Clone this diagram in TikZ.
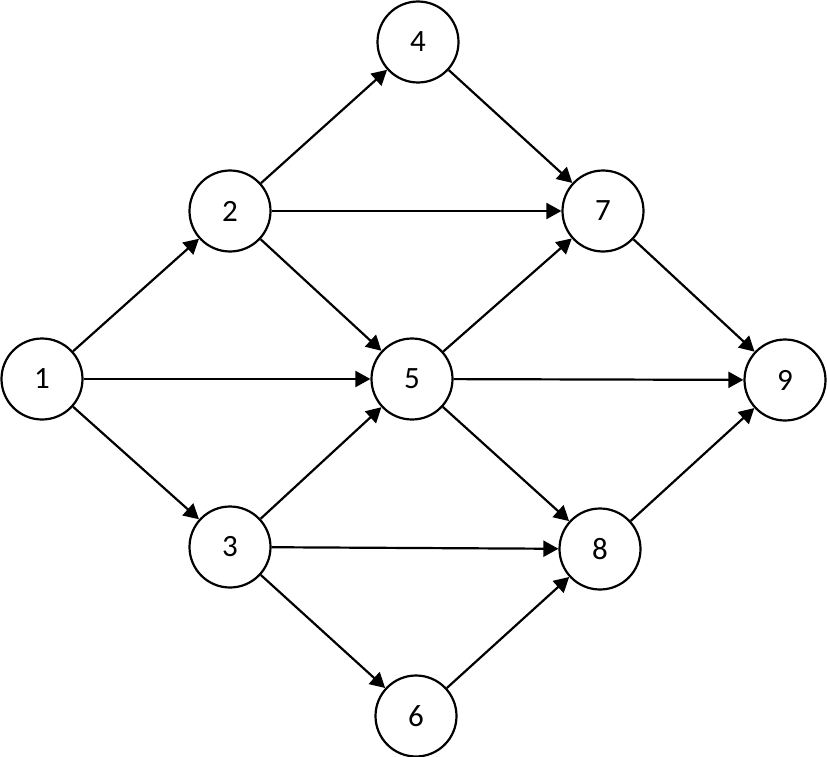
\documentclass[tikz,border=0pt]{standalone}
\usepackage{fontspec}
\setmainfont{Carlito}
\usetikzlibrary{arrows.meta}
\begin{document}
\begin{tikzpicture}[x=1pt,y=1pt,
  vtx/.style={circle,draw,line width=2.2pt,minimum size=81pt,inner sep=0pt,font=\fontsize{31}{31}\selectfont},
  edge/.style={line width=2.2pt,-{Triangle[length=15pt,width=16pt]}}]
\useasboundingbox (0,0) rectangle (827,-757);
\node[vtx] (n1) at (42,-379) {\raisebox{-4pt}{1}};
\node[vtx] (n2) at (230,-211) {\raisebox{-4pt}{2}};
\node[vtx] (n3) at (230,-547) {\raisebox{-4pt}{3}};
\node[vtx] (n4) at (418,-42) {\raisebox{-4pt}{4}};
\node[vtx] (n5) at (412,-379) {\raisebox{-4pt}{5}};
\node[vtx] (n6) at (416,-716) {\raisebox{-4pt}{6}};
\node[vtx] (n7) at (603,-211) {\raisebox{-4pt}{7}};
\node[vtx] (n8) at (600,-549) {\raisebox{-4pt}{8}};
\node[vtx] (n9) at (785,-380) {\raisebox{-4pt}{9}};
\draw[edge] (n1) -- (n2);
\draw[edge] (n1) -- (n5);
\draw[edge] (n1) -- (n3);
\draw[edge] (n2) -- (n4);
\draw[edge] (n2) -- (n7);
\draw[edge] (n2) -- (n5);
\draw[edge] (n3) -- (n5);
\draw[edge] (n3) -- (n8);
\draw[edge] (n3) -- (n6);
\draw[edge] (n4) -- (n7);
\draw[edge] (n5) -- (n7);
\draw[edge] (n5) -- (n9);
\draw[edge] (n5) -- (n8);
\draw[edge] (n6) -- (n8);
\draw[edge] (n7) -- (n9);
\draw[edge] (n8) -- (n9);
\end{tikzpicture}
\end{document}
